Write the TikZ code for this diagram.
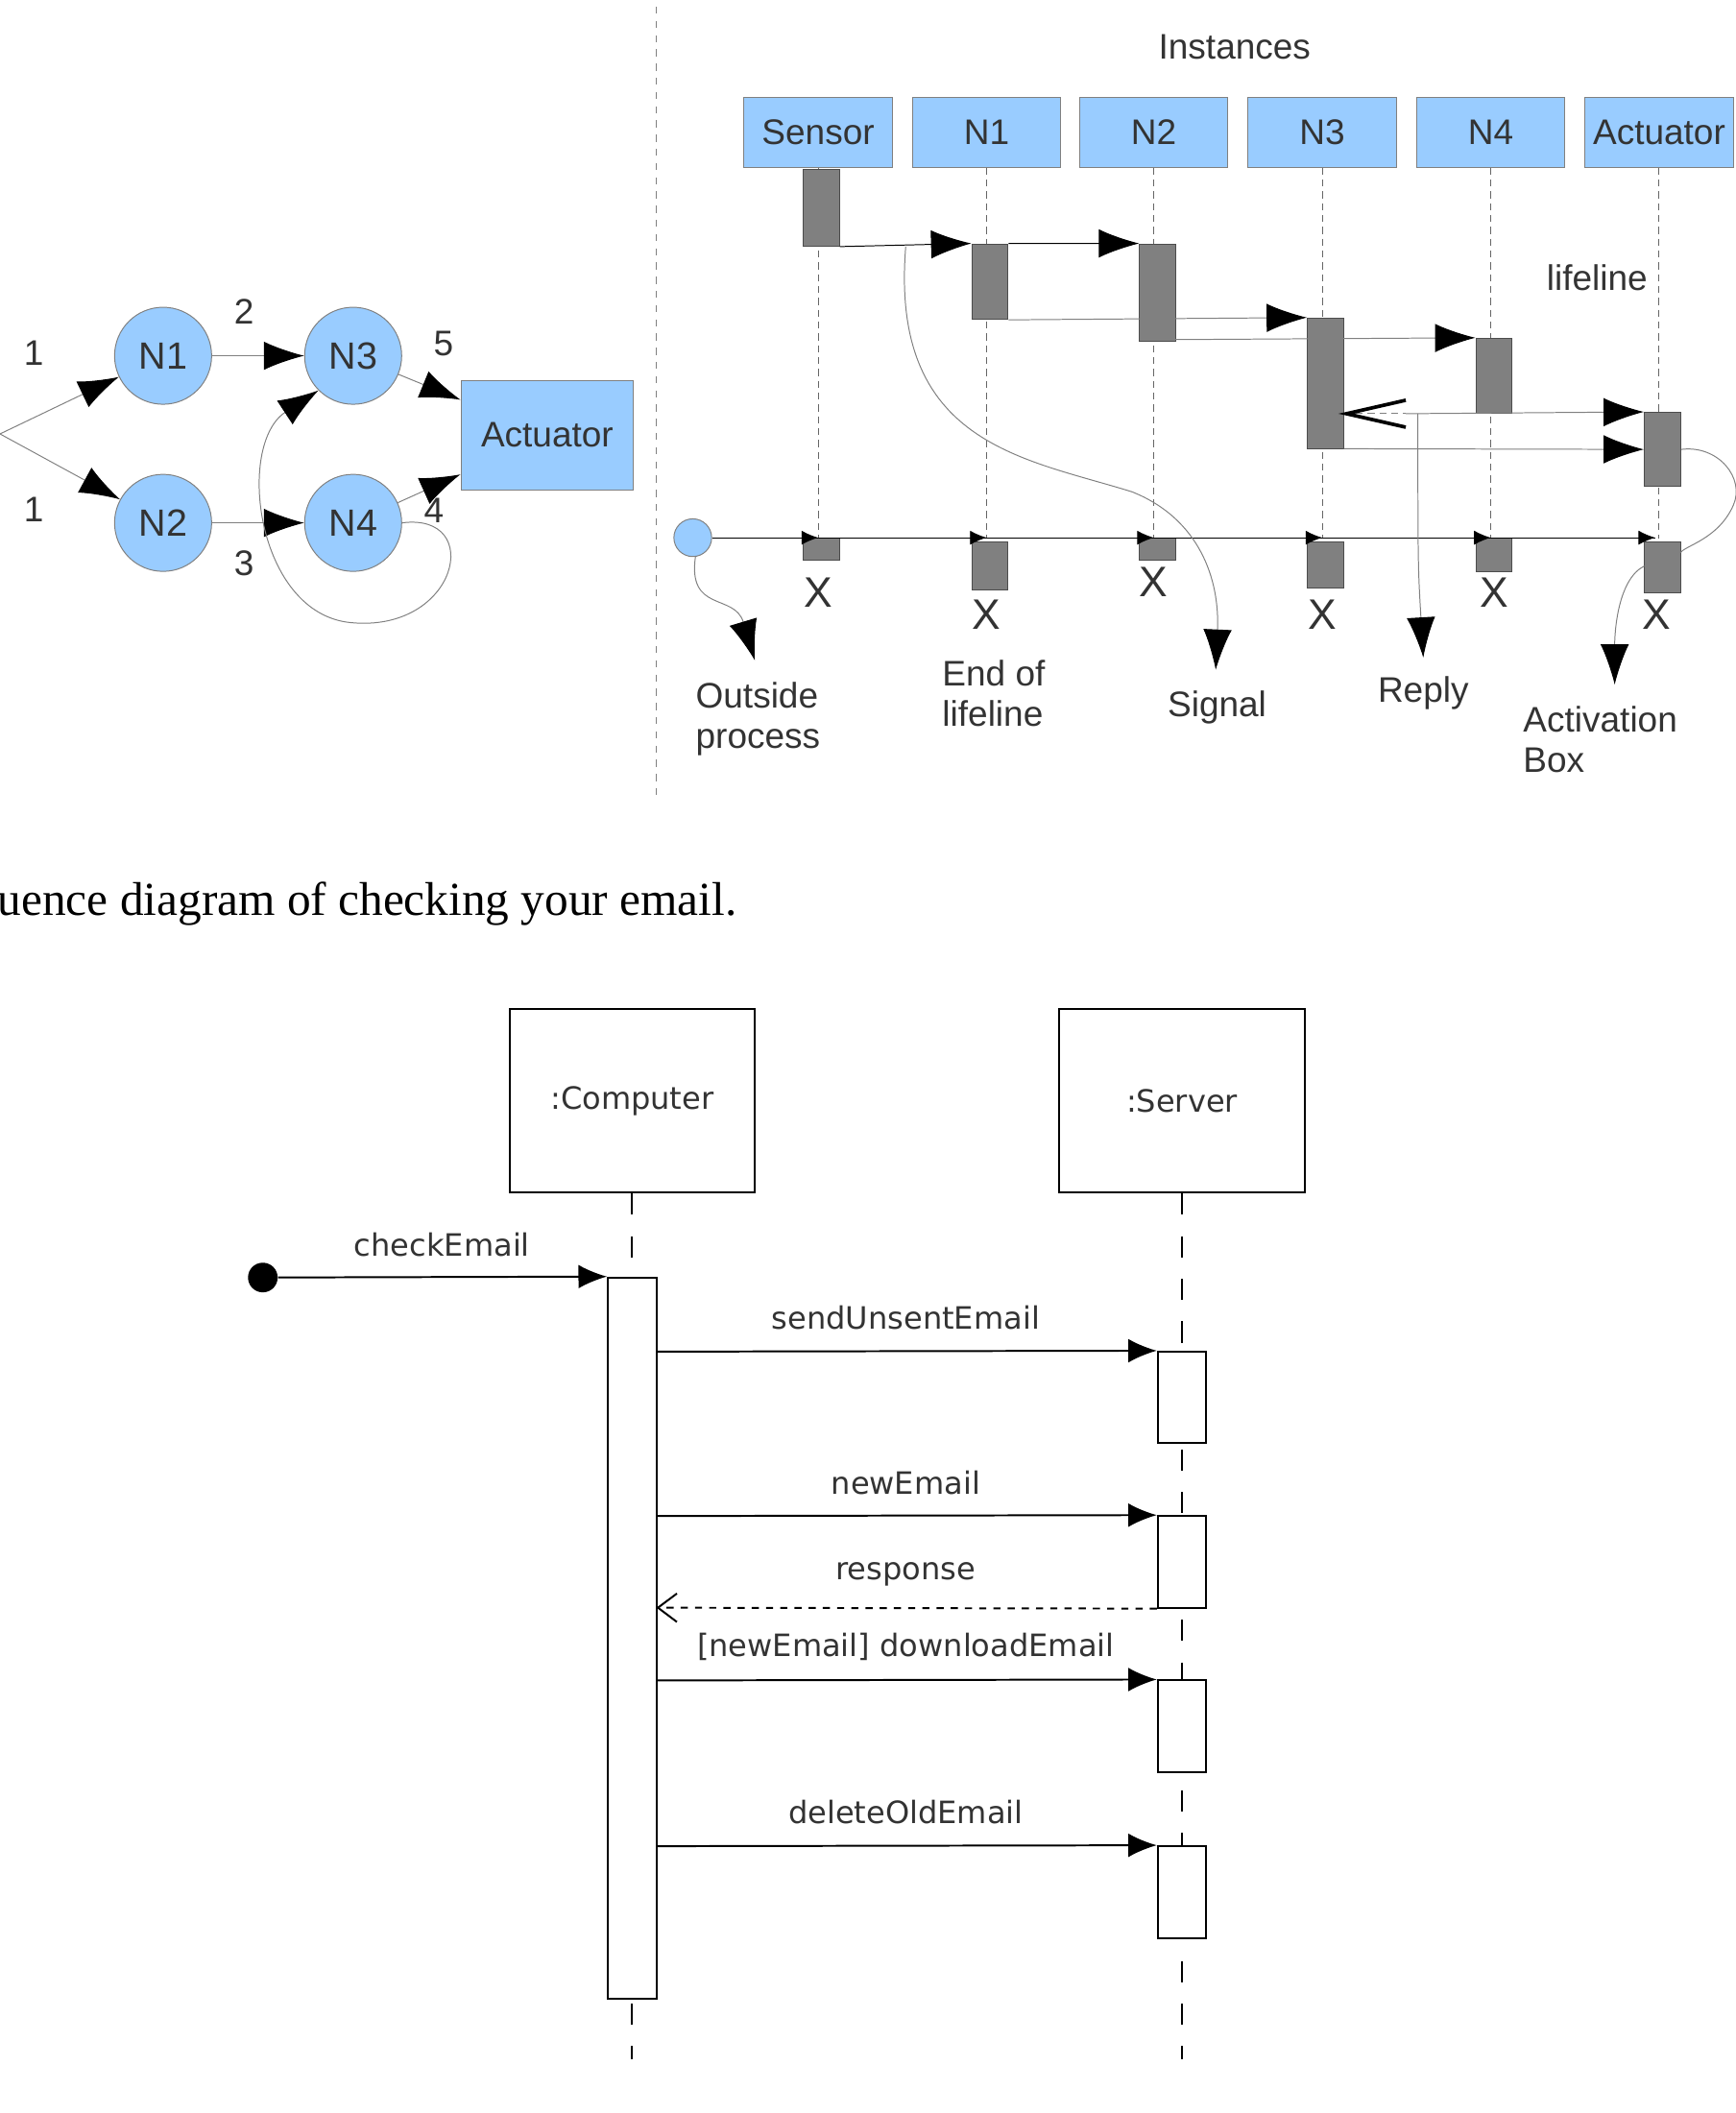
\documentclass[tikz,border=0pt]{standalone}
\usepackage{fontspec}
\setmainfont{Liberation Serif}
\newfontfamily\lsans{Liberation Sans}
\newfontfamily\dsans{DejaVu Sans}
\usetikzlibrary{arrows.meta}
\definecolor{nodeblue}{RGB}{153,204,255}
\definecolor{boxgray}{RGB}{128,128,128}
\tikzset{
  big/.style={-{Latex[length=17pt,width=12pt,black]}},
  small/.style={-{Latex[length=7pt,width=6pt]}},
  vertex/.style={circle, draw=gray, fill=nodeblue, minimum size=14.4mm, inner sep=0pt, font=\lsans\fontsize{16}{18}\selectfont, text=black!80},
  inst/.style={draw=gray, fill=nodeblue, minimum width=22mm, minimum height=10.4mm, inner sep=0pt, font=\lsans\fontsize{15}{17}\selectfont, text=black!80},
  act/.style={draw=black!70, fill=boxgray, minimum width=5.4mm, inner sep=0pt},
  lbl/.style={font=\lsans\fontsize{15}{17}\selectfont, text=black!80, align=left},
  life/.style={densely dashed, black!60, line width=0.4pt},
  obj/.style={draw, thick, minimum width=36.4mm, minimum height=27.2mm, inner sep=0pt, font=\dsans\fontsize{13}{15}\selectfont, text=black!80},
  wact/.style={draw, thick, fill=white, minimum width=7.2mm, inner sep=0pt},
  msg/.style={font=\dsans\fontsize{13}{15}\selectfont, text=black!80},
  sq/.style={thick, -{Latex[length=12pt,width=10pt]}}
}
\begin{document}
\begin{tikzpicture}[x=0.2mm, y=-0.2mm]
\useasboundingbox (0,0) rectangle (1288,1568);
% small network
\coordinate (src) at (0,322);
\node[vertex] (n1) at (121,264) {N1};
\node[vertex] (n2) at (121,388) {N2};
\node[vertex] (n3) at (262,264) {N3};
\node[vertex] (n4) at (262,388) {N4};
\node[inst, minimum width=25.6mm, minimum height=16.2mm] (act) at (406,323) {Actuator};
\draw[big, gray] (src) -- (n1);
\draw[big, gray] (src) -- (n2);
\draw[big, gray] (n1) -- (n3);
\draw[big, gray] (n2) -- (n4);
\draw[big, gray] (n3) -- (act);
\draw[big, gray] (n4) -- (act);
\draw[big, gray] (n4.east) .. controls (360,380) and (340,470) .. (260,462)
  .. controls (190,455) and (175,330) .. (n3.south west);
\node[lbl] (w1) at (25,262) {1};
\node[lbl] (w1b) at (25,378) {1};
\node[lbl] (w2) at (181,231) {2};
\node[lbl] (w3) at (181,418) {3};
\node[lbl] (w5) at (329,255) {5};
\node[lbl] (w4) at (322,379) {4};
% divider
\draw[dashed, gray] (487,5) -- (487,590);
% sequence sketch
\node[lbl] (title) at (916,35) {Instances};
\foreach \n/\t/\x in {sen/Sensor/607, i1/N1/732, i2/N2/856, i3/N3/981, i4/N4/1106, ia/Actuator/1231} {
  \node[inst] (\n) at (\x,98) {\t};
  \draw[life] (\n.south) -- (\x,400);
}
\node[act, minimum height=11.4mm] (a0) at (609.5,154.5) {};
\node[act, minimum height=11.2mm] (a1) at (734.5,209) {};
\node[act, minimum height=14.4mm] (a2) at (859,217) {};
\node[act, minimum height=19.4mm] (a3) at (983.5,284.5) {};
\node[act, minimum height=11.2mm] (a4) at (1108.5,279) {};
\node[act, minimum height=11mm] (a5) at (1233.5,333.5) {};
\draw[big] (623,183) -- (a1.north west);
\draw[big] (a1.north east) -- (a2.north west);
\draw[big, gray] (a1.south east) -- (a3.north west);
\draw[big, gray] (872,252) -- (a4.north west);
\draw[big, gray] (1043,307) -- (a5.north west);
\draw[densely dashed, gray] (997,307) -- (1043,307);
\draw[line width=1.5pt] (1043,297) -- (999,307) -- (1043,317);
\draw[big, gray] (997,333) -- (a5.west);
\node[circle, draw=gray, fill=nodeblue, minimum size=5.6mm, inner sep=0pt] (start) at (514,399) {};
\foreach \n/\x/\h/\c/\xl/\yl in {b0/609.5/3.4/407.5/607/440, b1/734.5/7.2/420/732/456, b2/859/3.4/407.5/856/432,
    b3/983.5/6.8/419/981/456, b4/1108.5/5/411.5/1109/440, b5/1233.5/7.6/421/1229/456} {
  \node[act, minimum height=\h mm] (\n) at (\x,\c) {};
  \node[lbl] (x\n) at (\xl,\yl) {\fontsize{18}{20}\selectfont X};
}
\draw (start) -- (1228,399);
\foreach \x in {607,732,856,981,1106,1228} \draw[small] (\x-20,399) -- (\x,399);
\draw[big, gray] (516,413) .. controls (510,455) and (545,440) .. (560,490);
\draw[big, gray] (672,183) .. controls (660,330) and (760,340) .. (840,365) .. controls (890,385) and (905,430) .. (902,497);
\draw[big, gray] (1052,307) .. controls (1052,420) .. (1056,488);
\draw[big, gray] (1220,420) .. controls (1200,430) and (1198,470) .. (1198,508);
\draw[gray] (a5.east) .. controls (1275,330) and (1295,355) .. (1286,375) .. controls (1275,400) and (1250,405) .. (1247,410);
\node[lbl, anchor=north west] (t1) at (510,500) {Outside\\process};
\node[lbl, anchor=north west] (t2) at (693,484) {End of\\lifeline};
\node[lbl] (t3) at (903,525) {Signal};
\node[lbl] (t4) at (1056,514) {Reply};
\node[lbl, anchor=north west] (t5) at (1124,518) {Activation\\Box};
\node[lbl] (t6) at (1185,206) {lifeline};
% caption
\node[anchor=west, inner sep=0pt, font=\fontsize{20}{22}\selectfont] (cap) at (-2,671) {uence diagram of checking your email.};
% email sequence diagram
\node[obj] (comp) at (469,817) {:Computer};
\node[obj] (serv) at (877,817) {:Server};
\draw[thick, dash pattern=on 9pt off 9pt] (comp.south) -- (469,1528);
\draw[thick, dash pattern=on 9pt off 9pt] (serv.south) -- (877,1528);
\node[wact, minimum height=107mm] (ca) at (469,1215.5) {};
\node[wact, minimum height=13.6mm] (s1) at (877,1037) {};
\node[wact, minimum height=13.6mm] (s2) at (877,1159) {};
\node[wact, minimum height=13.6mm] (s3) at (877,1281) {};
\node[wact, minimum height=13.6mm] (s4) at (877,1404) {};
\node[circle, fill, minimum size=4.4mm, inner sep=0pt] (dot) at (195,948) {};
\draw[sq] (dot) -- (ca.north west);
\draw[sq] (487,1003) -- (s1.north west);
\draw[sq] (487,1125) -- (s2.north west);
\draw[thick, dashed, -{Straight Barb[length=8pt,width=12pt]}] (s2.south west) -- (487,1193);
\draw[sq] (487,1247) -- (s3.north west);
\draw[sq] (487,1370) -- (s4.north west);
\node[msg] (m0) at (328,924) {checkEmail};
\node[msg] (m1) at (672,978) {sendUnsentEmail};
\node[msg] (m2) at (672,1100) {newEmail};
\node[msg] (m3) at (672,1168) {response};
\node[msg] (m4) at (672,1222) {[newEmail] downloadEmail};
\node[msg] (m5) at (672,1345) {deleteOldEmail};
\end{tikzpicture}
\end{document}
